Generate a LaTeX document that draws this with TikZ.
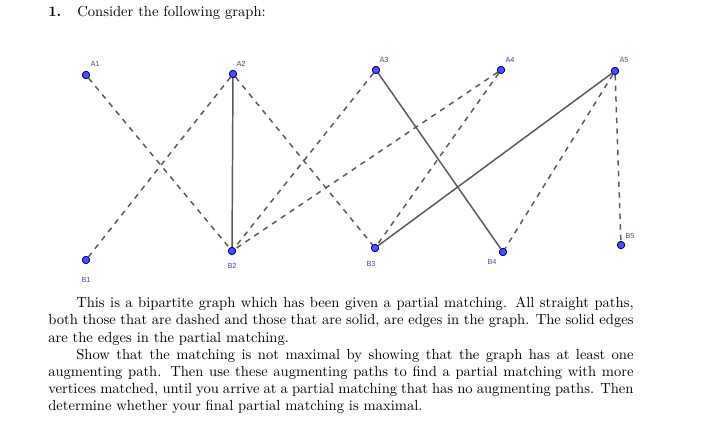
\documentclass[tikz,border=0pt]{standalone}
\usepackage{fontspec}
\newfontfamily\lab{Liberation Sans}
\begin{document}
\begin{tikzpicture}[x=0.75pt,y=-0.75pt,
  vtx/.style={circle,fill=blue!70!white,draw=blue!40!black,line width=0.5pt,inner sep=0pt,minimum size=5.5pt},
  lbl/.style={font=\lab\fontsize{5.5}{6}\selectfont,text=blue!40!gray!90!black,inner sep=0pt},
  sol/.style={draw=black!65,line width=1.1pt},
  dsh/.style={draw=black!65,line width=1.1pt,dash pattern=on 4pt off 4pt}]
\useasboundingbox (0,0) rectangle (720,423);
\node[vtx] (A1) at (86,75) {}; \node[vtx] (A2) at (233,74) {}; \node[vtx] (A3) at (376,70) {};
\node[vtx] (A4) at (501,70) {}; \node[vtx] (A5) at (615,71) {};
\node[vtx] (B1) at (86,260) {}; \node[vtx] (B2) at (232,251) {}; \node[vtx] (B3) at (375,248) {};
\node[vtx] (B4) at (503,252) {}; \node[vtx] (B5) at (621,245) {};
\node[lbl] (lA1) at (95,64) {A1}; \node[lbl] (lA2) at (241,64) {A2}; \node[lbl] (lA3) at (384,60) {A3};
\node[lbl] (lA4) at (510,60) {A4}; \node[lbl] (lA5) at (624,60) {A5};
\node[lbl] (lB1) at (86,280) {B1}; \node[lbl] (lB2) at (232,266) {B2}; \node[lbl] (lB3) at (371,264) {B3};
\node[lbl] (lB4) at (492,262) {B4}; \node[lbl] (lB5) at (630,236) {B5};
\draw[dsh] (A1)--(B2); \draw[dsh] (A2)--(B1); \draw[sol] (A2)--(B2); \draw[dsh] (A2)--(B3);
\draw[dsh] (A3)--(B2); \draw[sol] (A3)--(B4); \draw[dsh] (A4)--(B2); \draw[dsh] (A4)--(B3);
\draw[sol] (A5)--(B3); \draw[dsh] (A5)--(B4); \draw[dsh] (A5)--(B5);
\foreach \n in {A1,A2,A3,A4,A5,B1,B2,B3,B4,B5} \node[vtx] at (\n) {};
\node[anchor=west,inner sep=0pt,font=\fontsize{10.95}{13}\selectfont] (t1) at (48,13) {\textbf{1.}\hspace{12pt}Consider the following graph:};
\node[anchor=north west,inner sep=0pt,text width=439pt,align=justify,font=\fontsize{10.95}{12.9}\selectfont] (t2) at (48,297) {\hspace*{21pt}This is a bipartite graph which has been given a partial matching. All straight paths, both those that are dashed and those that are solid, are edges in the graph. The solid edges are the edges in the partial matching.\par
\hspace*{21pt}Show that the matching is not maximal by showing that the graph has at least one augmenting path. Then use these augmenting paths to find a partial matching with more vertices matched, until you arrive at a partial matching that has no augmenting paths. Then determine whether your final partial matching is maximal.};
\end{tikzpicture}
\end{document}
